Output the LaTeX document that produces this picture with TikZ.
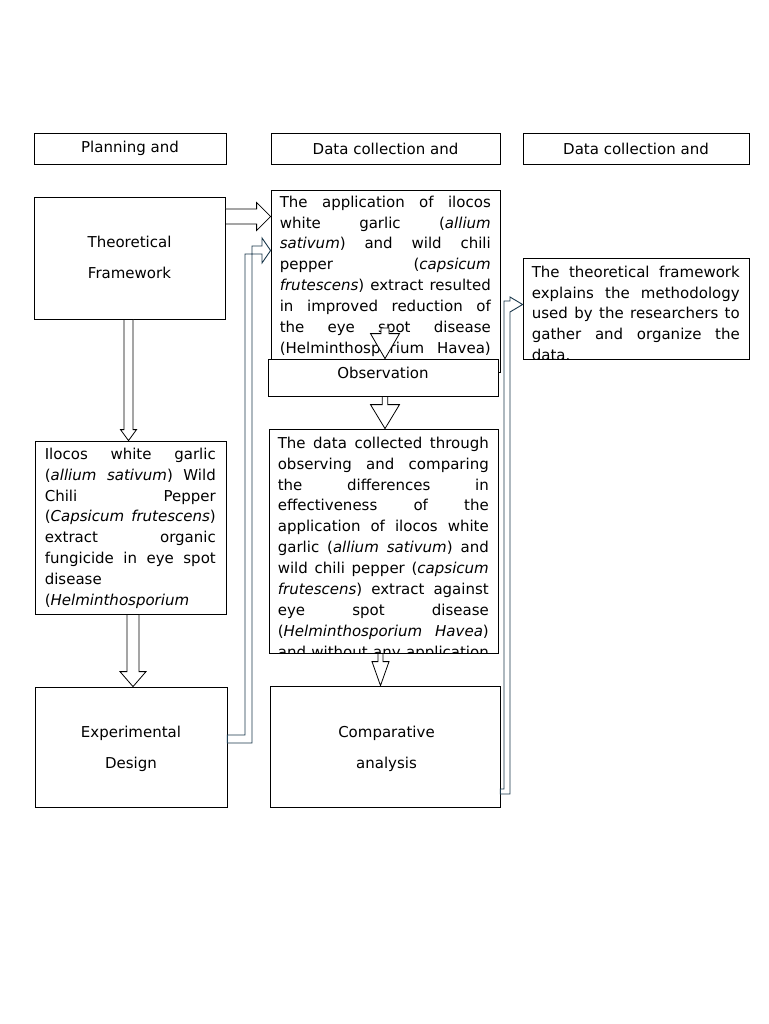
\documentclass[tikz,border=0pt]{standalone}
\usepackage{fontspec}
\setmainfont{DejaVu Sans}
\usetikzlibrary{calc}

\definecolor{elbowblue}{RGB}{25,55,75}
\newcommand{\boxfont}{\fontsize{15}{20.9}\selectfont}

\tikzset{
  frame/.style={draw, line width=0.8pt, fill=white, inner sep=0pt, font=\boxfont, align=center},
  para/.style={anchor=north west, inner sep=0pt, align=justify, font=\boxfont,
    execute at begin node={\tolerance=10000\hbadness=10000\hyphenpenalty=10000}},
  plaintext/.style={inner sep=0pt, align=center, font=\fontsize{15}{31}\selectfont},
  blockline/.style={draw, fill=white, line width=0.8pt},
  elbowline/.style={draw=elbowblue, fill=white, line width=0.9pt},
}

% block arrow: from, to, half shaft, half head, head length
\newcommand{\blockarrow}[5]{%
  \draw[blockline] ($(#1)!#3!90:(#2)$) -- ($(#2)!#5!(#1)!#3!-90:(#1)$)
    -- ($(#2)!#5!(#1)!#4!-90:(#1)$) -- (#2) -- ($(#2)!#5!(#1)!#4!90:(#1)$)
    -- ($(#2)!#5!(#1)!#3!90:(#1)$) -- ($(#1)!#3!-90:(#2)$) -- cycle;}

\begin{document}
\begin{tikzpicture}[x=1pt,y=-1pt]
\useasboundingbox (0,0) rectangle (768,1024);

% headers
\node[frame, minimum width=192pt, minimum height=31pt] (plan) at (130,148.5) {Planning and};
\node[frame, minimum width=229pt, minimum height=31pt] (collect) at (385.5,148.5) {Data collection and};
\node[frame, minimum width=226pt, minimum height=31pt] (collectb) at (636,148.5) {Data collection and};

% left column
\node[frame, minimum width=191pt, minimum height=122pt] (tf) at (129.5,258) {};
\node[plaintext] (tftext) at ([yshift=0.5]tf.center) {Theoretical\\Framework};

\node[frame, minimum width=191pt, minimum height=173pt] (ilocos) at (130.5,527.5) {};
\begin{scope}
  \clip (ilocos.south west) rectangle (ilocos.north east);
  \node[para, text width=171pt] (ilocostext) at ([xshift=10,yshift=-7]ilocos.north west)
    {Ilocos white garlic\linebreak (\textit{allium sativum}) Wild\linebreak Chili Pepper\linebreak
     (\textit{Capsicum frutescens})\linebreak extract organic\linebreak fungicide in eye spot\linebreak
     disease\linebreak (\textit{Helminthosporium}};
\end{scope}

\node[frame, minimum width=192pt, minimum height=120pt] (exp) at (131,747) {};
\node[plaintext] (exptext) at ([yshift=-2]exp.center) {Experimental\\Design};

% middle column
\node[frame, minimum width=229pt, minimum height=182pt] (app) at (385.5,281) {};
\begin{scope}
  \clip (app.south west) rectangle (app.north east);
  \node[para, text width=211pt] (apptext) at ([xshift=9,yshift=-6]app.north west)
    {\parfillskip=0pt The application of ilocos\linebreak white garlic (\textit{allium}\linebreak
     \textit{sativum}) and wild chili\linebreak pepper (\textit{capsicum}\linebreak
     \textit{frutescens}) extract resulted\linebreak in improved reduction of\linebreak
     the eye spot disease\linebreak (Helminthosporium Havea)\par};
\end{scope}

\node[frame, minimum width=230pt, minimum height=37pt] (obs) at (383,377.5) {};
\node[plaintext] (obstext) at ([yshift=4.5]obs.center) {Observation};

\node[frame, minimum width=229pt, minimum height=224pt] (data) at (383.5,541) {};
\begin{scope}
  \clip (data.south west) rectangle (data.north east);
  \node[para, text width=211pt] (datatext) at ([xshift=9,yshift=-8]data.north west)
    {\parfillskip=0pt The data collected through\linebreak observing and comparing\linebreak
     the differences in\linebreak effectiveness of the\linebreak application of ilocos white\linebreak
     garlic (\textit{allium sativum}) and\linebreak wild chili pepper (\textit{capsicum}\linebreak
     \textit{frutescens}) extract against\linebreak eye spot disease\linebreak
     (\textit{Helminthosporium Havea})\linebreak and without any application\par};
\end{scope}

\node[frame, minimum width=230pt, minimum height=121pt] (compare) at (385,746.5) {};
\node[plaintext] (comparetext) at ([xshift=1.5,yshift=-2]compare.center) {Comparative\\analysis};

% right column
\node[frame, minimum width=226pt, minimum height=101pt] (method) at (636,308.5) {};
\begin{scope}
  \clip (method.south west) rectangle (method.north east);
  \node[para, text width=208pt] (methodtext) at ([xshift=9,yshift=-8]method.north west)
    {The theoretical framework\linebreak explains the methodology\linebreak
     used by the researchers to\linebreak gather and organize the\linebreak data.};
\end{scope}

% block arrows
\coordinate (tfout) at (tf.east |- 0,216.5);
\coordinate (appin) at (app.west |- 0,216.5);
\blockarrow{tfout}{appin}{7.5pt}{14pt}{14pt}

\coordinate (tfdown) at (128.5,0 |- tf.south);
\coordinate (ilocosin) at (128.5,0 |- ilocos.north);
\blockarrow{tfdown}{ilocosin}{4.5pt}{8pt}{11pt}

\coordinate (ilocosdown) at (133,0 |- ilocos.south);
\coordinate (expin) at (133,0 |- exp.north);
\blockarrow{ilocosdown}{expin}{6pt}{13pt}{15pt}

\coordinate (appdown) at (385,328);
\coordinate (obsin) at (385,0 |- obs.north);
\blockarrow{appdown}{obsin}{4pt}{14.5pt}{25pt}

\coordinate (obsdown) at (385,0 |- obs.south);
\coordinate (datain) at (385,0 |- data.north);
\blockarrow{obsdown}{datain}{2.7pt}{14.5pt}{24pt}

\coordinate (datadown) at (380.5,0 |- data.south);
\coordinate (comparein) at (380.5,0 |- compare.north);
\blockarrow{datadown}{comparein}{2.5pt}{8.5pt}{24pt}

% elbow arrows
\draw[elbowline] (exp.east |- 0,735) -- (245,735) -- (245,254) -- (262,254) -- (262,263)
  -- (app.west |- 0,250.5) -- (262,238) -- (262,246) -- (252,246) -- (252,743)
  -- (exp.east |- 0,743) -- cycle;
\draw[elbowline] (compare.east |- 0,789) -- (504,789) -- (504,301) -- (510,301) -- (510,297)
  -- (method.west |- 0,304.5) -- (510,312) -- (510,794) -- (compare.east |- 0,794) -- cycle;
\end{tikzpicture}
\end{document}
